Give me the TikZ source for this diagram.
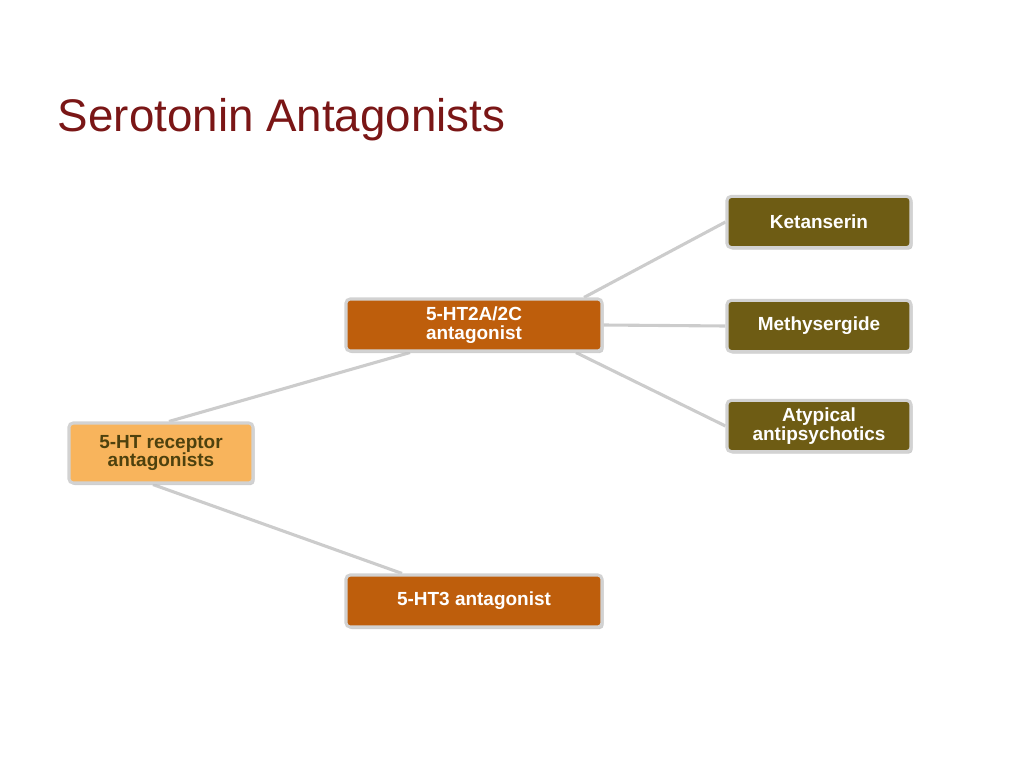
\documentclass[tikz,border=0pt]{standalone}
\usepackage{fontspec}
\setmainfont{Liberation Sans}
\usetikzlibrary{shadows,backgrounds}
\definecolor{titlered}{HTML}{7A1616}
\definecolor{rootfill}{HTML}{F8B45C}
\definecolor{midfill}{HTML}{BE5E0C}
\definecolor{leaffill}{HTML}{6E5C14}
\tikzset{
  box/.style={rectangle,rounded corners=3pt,draw=gray!35,line width=2.2pt,
    drop shadow={shadow xshift=1.2pt,shadow yshift=-1.5pt,opacity=0.4},
    align=center,font=\bfseries\fontsize{13.5}{13}\selectfont,inner sep=0pt},
  root/.style={box,fill=rootfill,text=leaffill!70!black,minimum width=4.6cm,minimum height=1.5cm},
  mid/.style={box,fill=midfill,text=white,minimum width=6.4cm,minimum height=1.3cm},
  leaf/.style={box,fill=leaffill,text=white,minimum width=4.6cm,minimum height=1.28cm},
  link/.style={gray!40,line width=2.2pt}
}
\begin{document}
\begin{tikzpicture}[x=0.025cm,y=-0.025cm]
\useasboundingbox (0,0) rectangle (1024,768);
\node[anchor=base west,text=titlered,font=\fontsize{32.5}{34}\selectfont] (title) at (53,132) {Serotonin Antagonists};
\node[root] at (161,453) (r) {5-HT receptor\\antagonists};
\node[mid] at (474,325) (a) {5-HT2A/2C\\antagonist};
\node[mid] at (474,601) (b) {5-HT3 antagonist};
\node[leaf] at (819,222) (k) {Ketanserin};
\node[leaf] at (819,326) (m) {Methysergide};
\node[leaf] at (819,426) (p) {Atypical\\antipsychotics};
\begin{scope}[on background layer]
\draw[link] ([xshift=0.2cm]r.north) -- ([xshift=-1.6cm]a.south);
\draw[link] ([xshift=-0.2cm]r.south) -- ([xshift=-1.8cm]b.north);
\draw[link] ([xshift=2.75cm]a.north) -- (k.west);
\draw[link] (a.east) -- (m.west);
\draw[link] ([xshift=2.55cm]a.south) -- (p.west);
\end{scope}
\end{tikzpicture}
\end{document}
